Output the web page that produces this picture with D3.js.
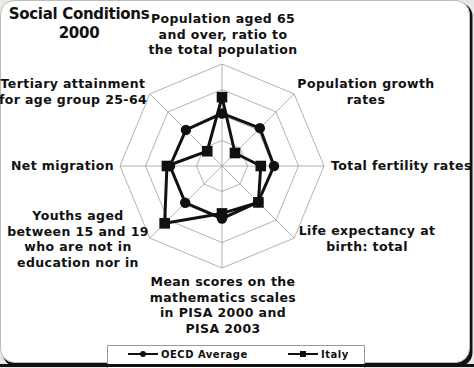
<!DOCTYPE html>
<html>
<head>
<meta charset="utf-8">
<script src="https://cdn.jsdelivr.net/npm/d3@7"></script>
<style>
  body { margin: 0; background: #fff; }
  text { font-family: "DejaVu Sans", Verdana, sans-serif; font-weight: bold; fill: #111; }
</style>
</head>
<body>
<div id="chart"></div>
<script>
var axes = [
    ["Population aged 65", "and over, ratio to", "the total population"],
    ["Population growth", "rates"],
    ["Total fertility rates"],
    ["Life expectancy at", "birth: total"],
    ["Mean scores on the", "mathematics scales", "in PISA 2000 and", "PISA 2003"],
    ["Youths aged", "between 15 and 19", "who are not in", "education nor in"],
    ["Net migration"],
    ["Tertiary attainment", "for age group 25-64"]
]
var oecd  = [1.03, 1.05, 1.02, 1.0, 1.03, 1.02, 1.02, 1.0]
var italy = [1.35, 0.36, 0.76, 1.01, 0.93, 1.59, 1.08, 0.41]
var ringTicks = [0.5, 1, 1.5, 2]
var titleLines = ["Social Conditions", "2000"]

var width = 474, height = 368
var cx = 222, cy = 166, R = 102

// label anchor positions: [x, y of first line, text-anchor]
var labelPos = [
    [223, 23, "middle"],
    [366, 88, "middle"],
    [331, 170, "start"],
    [367, 235, "middle"],
    [223, 286, "middle"],
    [78, 220, "middle"],
    [114, 170, "end"],
    [73, 88, "middle"]
]

var svg = d3.select("#chart").append("svg")
    .attr("width", width)
    .attr("height", height)

// frame
svg.append("rect")
    .attr("x", -2).attr("y", -2)
    .attr("width", width + 4).attr("height", height + 4)
    .attr("fill", "#e8e8e8")
svg.append("rect")
    .attr("x", 2.5).attr("y", 2.5)
    .attr("width", 470).attr("height", 364)
    .attr("rx", 14)
    .attr("fill", "#111")
svg.append("rect")
    .attr("x", 0.5).attr("y", 0.5)
    .attr("width", 469).attr("height", 362)
    .attr("rx", 14)
    .attr("fill", "#fff")
    .attr("stroke", "#bbb")

var r = d3.scaleLinear().domain([0, 2]).range([0, R])
var angle = function(i) { return i * Math.PI * 2 / axes.length }
var px = function(i, v) { return cx + r(v) * Math.sin(angle(i)) }
var py = function(i, v) { return cy - r(v) * Math.cos(angle(i)) }

var g = svg.append("g")

// rings
g.selectAll(".ring")
    .data(ringTicks)
    .enter().append("polygon")
    .attr("class", "ring")
    .attr("points", function(t) {
        return axes.map(function(a, i) { return px(i, t) + "," + py(i, t) }).join(" ")
    })
    .attr("fill", "none")
    .attr("stroke", "#a0a0a0")
    .attr("stroke-width", 0.8)

// spokes
g.selectAll(".spoke")
    .data(axes)
    .enter().append("line")
    .attr("x1", cx).attr("y1", cy)
    .attr("x2", function(d, i) { return px(i, 2) })
    .attr("y2", function(d, i) { return py(i, 2) })
    .attr("stroke", "#a0a0a0")
    .attr("stroke-width", 0.8)

var line = d3.line()
    .x(function(d) { return px(d.i, d.v) })
    .y(function(d) { return py(d.i, d.v) })
    .curve(d3.curveLinearClosed)

var series = [
    {name: "OECD Average", values: oecd, marker: "circle"},
    {name: "Italy", values: italy, marker: "square"}
]

series.forEach(function(s) {
    var pts = s.values.map(function(v, i) { return {i: i, v: v} })
    g.append("path")
        .attr("d", line(pts))
        .attr("fill", "none")
        .attr("stroke", "#111")
        .attr("stroke-width", 3)
        .attr("stroke-linejoin", "round")
    if (s.marker === "circle") {
        g.selectAll(null).data(pts).enter().append("circle")
            .attr("cx", function(d) { return px(d.i, d.v) })
            .attr("cy", function(d) { return py(d.i, d.v) })
            .attr("r", 5.2)
            .attr("fill", "#111")
    } else {
        g.selectAll(null).data(pts).enter().append("rect")
            .attr("x", function(d) { return px(d.i, d.v) - 5.3 })
            .attr("y", function(d) { return py(d.i, d.v) - 5.3 })
            .attr("width", 10.6).attr("height", 10.6)
            .attr("fill", "#111")
    }
})

// axis labels
axes.forEach(function(lines, i) {
    var p = labelPos[i]
    var t = svg.append("text")
        .attr("x", p[0]).attr("y", p[1])
        .attr("text-anchor", p[2])
        .style("font-size", "12.5px")
        .style("letter-spacing", "0.4px")
    lines.forEach(function(l, k) {
        t.append("tspan").attr("x", p[0]).attr("dy", k === 0 ? 0 : 15.6).text(l)
    })
})

// title
var title = svg.append("text")
    .attr("x", 79).attr("y", 19)
    .attr("text-anchor", "middle")
    .style("font-size", "15px")
    .style("letter-spacing", "-0.3px")
titleLines.forEach(function(l, k) {
    title.append("tspan").attr("x", 79).attr("dy", k === 0 ? 0 : 18.5).text(l)
})

// legend
var leg = svg.append("g")
leg.append("rect")
    .attr("x", 107.5).attr("y", 345.5)
    .attr("width", 257).attr("height", 30)
    .attr("fill", "#fff")
    .attr("stroke", "#999")
var legX = [128, 288]
series.forEach(function(s, k) {
    var x0 = legX[k], y0 = 354
    leg.append("line")
        .attr("x1", x0).attr("x2", x0 + 30)
        .attr("y1", y0).attr("y2", y0)
        .attr("stroke", "#111").attr("stroke-width", 2)
    if (s.marker === "circle") {
        leg.append("circle").attr("cx", x0 + 15).attr("cy", y0).attr("r", 3).attr("fill", "#111")
    } else {
        leg.append("rect").attr("x", x0 + 12).attr("y", y0 - 3).attr("width", 6).attr("height", 6).attr("fill", "#111")
    }
    leg.append("text")
        .attr("x", x0 + 33).attr("y", y0 + 4)
        .style("font-size", "10px")
        .style("letter-spacing", "0.5px")
        .text(s.name)
})

// bottom dark edge over legend
svg.append("path")
    .attr("d", "M 0 365.5 L 474 365.5")
    .attr("stroke", "#111")
    .attr("stroke-width", 3)
</script>
</body>
</html>
